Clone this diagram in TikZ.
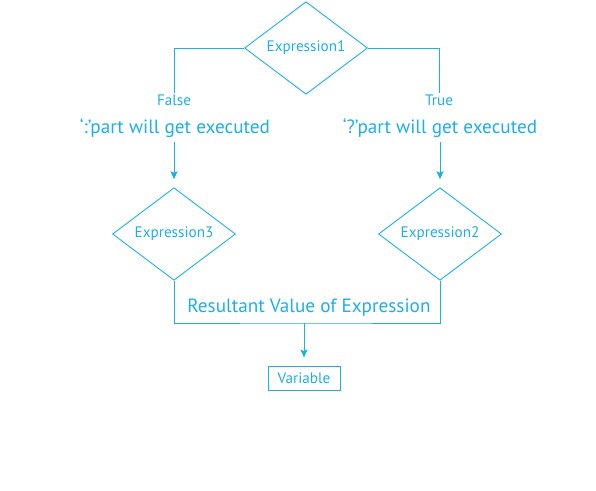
\documentclass[tikz,border=0pt]{standalone}
\usepackage{fontspec}
\setmainfont{PT Sans}
\usetikzlibrary{arrows.meta,positioning,shapes.geometric}
\definecolor{flowcyan}{HTML}{1DAEEB}
\tikzset{
  decision/.style={diamond, draw=flowcyan, line width=.9pt, inner sep=0pt, minimum width=123pt, minimum height=90pt, text=flowcyan, font=\fontsize{15.2}{17}\selectfont},
  varbox/.style={draw=flowcyan, line width=.9pt, minimum width=72pt, minimum height=24pt, inner sep=0pt, text=flowcyan, font=\fontsize{15.2}{17}\selectfont},
  smalltxt/.style={text=flowcyan, inner sep=1pt, font=\fontsize{15.2}{17}\selectfont},
  bigtxt/.style={text=flowcyan, inner sep=1pt, font=\fontsize{19.2}{22}\selectfont},
  ln/.style={draw=flowcyan, line width=.9pt},
  ar/.style={ln, -{Stealth[length=8pt, width=7pt, inset=1.5pt]}},
}
\begin{document}
\begin{tikzpicture}[x=1pt, y=-1pt]
  \useasboundingbox (0,0) rectangle (596,490);
  % top decision
  \node[decision] (expone) at (306,48) {Expression1};
  \node[smalltxt] (false) at (174,100) {False};
  \node[smalltxt] (true) at (439,100) {True};
  \node[bigtxt] (colonpart) at (175,128) {‘:’part will get executed};
  \node[bigtxt] (qpart) at (440,128) {‘?’part will get executed};
  \draw[ln] (expone.west) -| (false.north);
  \draw[ln] (expone.east) -| (true.north);
  % branch decisions
  \node[decision] (expthree) at (174,234) {Expression3};
  \node[decision] (exptwo) at (440,234) {Expression2};
  \draw[ar, shorten <=3pt, shorten >=8pt] (colonpart.south -| expthree.north) -- (expthree.north);
  \draw[ar, shorten <=3pt, shorten >=8pt] (qpart.south -| exptwo.north) -- (exptwo.north);
  % result
  \coordinate (join) at (304,323);
  \node[bigtxt] (result) at (309,308) {Resultant Value of Expression};
  \draw[ln] (expthree.south) |- (join) -| (exptwo.south);
  \node[varbox] (var) at (304,378) {Variable};
  \draw[ar, shorten >=8pt] (join) -- (var.north);
\end{tikzpicture}
\end{document}
